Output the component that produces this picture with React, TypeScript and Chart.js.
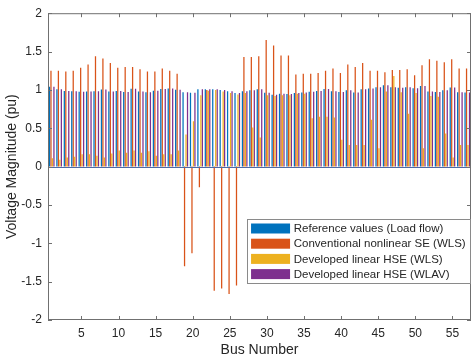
import React, { useEffect, useRef } from 'react';
import { Chart, registerables } from 'chart.js';

Chart.register(...registerables);

const busNumbers = [
  1, 2, 3, 4, 5, 6, 7, 8, 9, 10, 11, 12, 13, 14, 15, 16, 17, 18, 19, 20,
  21, 22, 23, 24, 25, 26, 27, 28, 29, 30, 31, 32, 33, 34, 35, 36, 37, 38, 39, 40,
  41, 42, 43, 44, 45, 46, 47, 48, 49, 50, 51, 52, 53, 54, 55, 56, 57,
];

const referenceLoadFlow = [
  1.04, 1.01, 0.985, 0.981, 0.976, 0.98, 0.984, 1.005, 0.98, 0.986,
  0.974, 1.015, 0.979, 0.97, 0.988, 1.013, 1.017, 1.001, 0.97, 0.964,
  1.008, 1.01, 1.008, 0.999, 0.983, 0.959, 0.982, 0.997, 1.01, 0.963,
  0.936, 0.95, 0.948, 0.959, 0.966, 0.976, 0.985, 1.013, 0.983, 0.973,
  0.996, 0.967, 1.01, 1.017, 1.036, 1.06, 1.033, 1.027, 1.036, 1.023,
  1.052, 0.98, 0.971, 0.996, 1.031, 0.968, 0.965,
];

const conventionalWLS = [
  1.25, 1.25, 1.24, 1.25, 1.29, 1.33, 1.44, 1.41, 1.35, 1.29,
  1.3, 1.3, 1.27, 1.24, 1.24, 1.28, 1.25, 1.21, -1.3, -1.13,
  -0.27, 1.0, -1.62, -1.59, -1.66, -1.55, 1.43, 1.43, 1.44, 1.65,
  1.58, 1.45, 1.45, 1.2, 1.21, 1.21, 1.22, 1.25, 1.28, 1.22,
  1.33, 1.3, 1.35, 1.25, 1.25, 1.23, 1.26, 1.26, 1.27, 1.19,
  1.32, 1.4, 1.38, 1.36, 1.4, 1.28, 1.28,
];

const developedWLS = [
  0.11, 0.09, 0.12, 0.13, 0.16, 0.16, 0.14, 0.12, 0.17, 0.21,
  0.18, 0.21, 0.18, 0.2, 0.14, 0.16, 0.16, 0.21, 0.42, 0.59,
  0.93, 0.99, 1.0, 0.98, 0.96, 0.94, 0.96, 0.51, 0.38, 0.93,
  0.92, 0.93, 0.93, 0.95, 0.95, 0.63, 0.65, 0.65, 0.64, 0.35,
  0.28, 0.28, 0.28, 0.61, 0.24, 0.98, 1.18, 0.97, 0.69, 0.96,
  0.24, 0.92, 0.91, 0.43, 0.12, 0.28, 0.28,
];

const developedWLAV = [
  1.04, 1.01, 0.985, 0.981, 0.976, 0.98, 0.984, 1.005, 0.98, 0.986,
  0.974, 1.015, 0.979, 0.97, 0.988, 1.013, 1.017, 1.001, 0.97, 0.964,
  1.008, 1.01, 1.008, 0.999, 0.983, 0.959, 0.982, 0.997, 1.01, 0.963,
  0.936, 0.95, 0.948, 0.959, 0.966, 0.976, 0.985, 1.013, 0.983, 0.973,
  0.996, 0.967, 1.01, 1.017, 1.036, 1.06, 1.033, 1.027, 1.036, 1.023,
  1.052, 0.98, 0.971, 0.996, 1.031, 0.968, 0.965,
];

const xTickBuses = [5, 10, 15, 20, 25, 30, 35, 40, 45, 50, 55];

const seriesNames = [
  'Reference values (Load flow)',
  'Conventional nonlinear SE (WLS)',
  'Developed linear HSE (WLS)',
  'Developed linear HSE (WLAV)',
];
const seriesColors = ['#0072BD', '#D95319', '#EDB120', '#7E2F8E'];

const FONT = '"Liberation Sans", Arial, sans-serif';
const TEXT = '#262626';

const framePlugin = {
  id: 'matlabFrame',
  afterDatasetsDraw(chart: any) {
    const { ctx, chartArea: a, scales } = chart;
    const xs = scales.x;
    const ys = scales.y;
    ctx.save();

    // bar baseline
    const y0 = Math.round(ys.getPixelForValue(0)) + 0.5;
    ctx.strokeStyle = '#4f6aa3';
    ctx.lineWidth = 1;
    ctx.beginPath();
    ctx.moveTo(a.left, y0);
    ctx.lineTo(a.right, y0);
    ctx.stroke();

    // box
    ctx.strokeStyle = '#707070';
    ctx.strokeRect(a.left + 0.5, a.top + 0.5, a.right - a.left - 1, a.bottom - a.top - 1);

    const tl = 4;
    ctx.beginPath();
    for (const t of ys.ticks) {
      const py = Math.round(ys.getPixelForValue(t.value)) + 0.5;
      ctx.moveTo(a.left, py);
      ctx.lineTo(a.left + tl, py);
      ctx.moveTo(a.right, py);
      ctx.lineTo(a.right - tl, py);
    }
    for (const b of xTickBuses) {
      const px = Math.round(xs.getPixelForValue(busNumbers.indexOf(b))) + 0.5;
      ctx.moveTo(px, a.bottom);
      ctx.lineTo(px, a.bottom - tl);
      ctx.moveTo(px, a.top);
      ctx.lineTo(px, a.top + tl);
    }
    ctx.stroke();

    // legend inside, bottom-right
    ctx.font = `11.5px ${FONT}`;
    let maxW = 0;
    for (const n of seriesNames) maxW = Math.max(maxW, ctx.measureText(n).width);
    const swW = 39;
    const swH = 10;
    const padL = 4.5;
    const gap = 3.7;
    const padR = 4.3;
    const rowH = 15.2;
    const boxW = padL + swW + gap + maxW + padR;
    const boxH = 63.7;
    const right = a.right - 1;
    const bottom = a.bottom - 37;
    const left = right - boxW;
    const top = bottom - boxH;
    ctx.fillStyle = '#ffffff';
    ctx.fillRect(left, top, boxW, boxH);
    ctx.strokeStyle = '#8a8a8a';
    ctx.strokeRect(Math.round(left) + 0.5, Math.round(top) + 0.5, Math.round(boxW), Math.round(boxH));
    ctx.textBaseline = 'middle';
    ctx.textAlign = 'left';
    seriesNames.forEach((n, i) => {
      const cy = top + 9.2 + i * rowH;
      ctx.fillStyle = seriesColors[i];
      ctx.fillRect(left + padL, cy - swH / 2, swW, swH);
      ctx.fillStyle = TEXT;
      ctx.fillText(n, left + padL + swW + gap, cy + 0.5);
    });

    ctx.restore();
  },
};

export default function App() {
  const ref = useRef<HTMLCanvasElement | null>(null);

  useEffect(() => {
    document.body.style.margin = '0';
    const canvas = ref.current;
    if (!canvas) return;
    const series = [referenceLoadFlow, conventionalWLS, developedWLS, developedWLAV];
    const chart = new Chart(canvas, {
      type: 'bar',
      data: {
        labels: busNumbers.map(String),
        datasets: series.map((d, i) => ({
          label: seriesNames[i],
          data: d,
          backgroundColor: seriesColors[i],
          borderWidth: 0,
          categoryPercentage: 0.8,
          barPercentage: 0.85,
        })),
      },
      options: {
        responsive: false,
        animation: false,
        devicePixelRatio: 1,
        events: [],
        layout: { padding: { top: 8, right: 3, left: 0, bottom: 0 } },
        plugins: {
          legend: { display: false },
          tooltip: { enabled: false },
          title: { display: false },
        },
        scales: {
          x: {
            type: 'category',
            offset: true,
            grid: { display: false, drawTicks: false },
            border: { display: false },
            ticks: {
              autoSkip: false,
              maxRotation: 0,
              minRotation: 0,
              padding: 6,
              color: TEXT,
              font: { family: FONT, size: 12 },
              callback: (_v: any, idx: number) =>
                xTickBuses.includes(busNumbers[idx]) ? String(busNumbers[idx]) : '',
            },
            title: {
              display: true,
              text: 'Bus Number',
              color: TEXT,
              font: { family: FONT, size: 14 },
              padding: { top: 0, bottom: -1 },
            },
            afterFit: (s: any) => {
              s.height = 38;
            },
          },
          y: {
            type: 'linear',
            min: -2,
            max: 2,
            grid: { display: false, drawTicks: false },
            border: { display: false },
            ticks: {
              stepSize: 0.5,
              padding: 6,
              color: TEXT,
              font: { family: FONT, size: 12 },
              callback: (v: any) => String(Math.round(Number(v) * 10) / 10),
            },
            title: {
              display: true,
              text: 'Voltage Magnitude (pu)',
              color: TEXT,
              font: { family: FONT, size: 14 },
              padding: { top: 4, bottom: 0 },
            },
            afterFit: (s: any) => {
              s.width = 48;
            },
          },
        },
      },
      plugins: [framePlugin],
    });
    return () => chart.destroy();
  }, []);

  return (
    <div style={{ width: 474, height: 358 }}>
      <canvas ref={ref} width={474} height={358} style={{ display: 'block' }} />
    </div>
  );
}
